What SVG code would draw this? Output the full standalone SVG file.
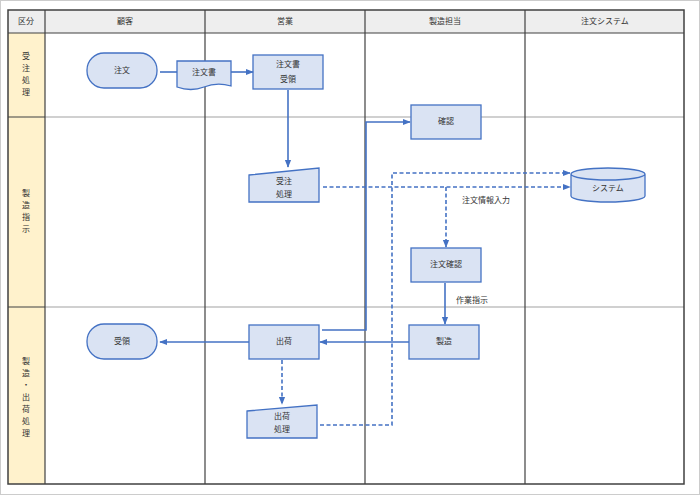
<svg xmlns="http://www.w3.org/2000/svg" width="700" height="495" viewBox="0 0 700 495">
<style>
text{font-family:"Noto Sans CJK JP","Liberation Sans",sans-serif;font-size:8px;fill:#333;text-anchor:middle;dominant-baseline:middle}
.n{fill:#dae3f3;stroke:#4472c4;stroke-width:1.3}
.c{fill:none;stroke:#4472c4;stroke-width:1.6}
.d{stroke-dasharray:4 2.5}
.g{stroke:#c0c0c0;stroke-width:1.5}
.k{stroke:#404040;stroke-width:1.2}
</style>
<defs><marker id="a" viewBox="0 0 10 10" refX="9" refY="5" markerWidth="5" markerHeight="5" orient="auto"><path d="M0,1L10,5L0,9z" fill="#4472c4"/></marker></defs>
<rect x="0.5" y="0.5" width="699" height="494" fill="#fff" stroke="#ccc"/>
<g id="frame">
<rect x="8" y="10" width="676" height="23" fill="#eeeeee"/>
<rect x="8" y="33" width="37" height="451" fill="#fff2cc"/>
<line x1="45" y1="117" x2="684" y2="117" class="g"/><line x1="45" y1="307" x2="684" y2="307" class="g"/>
<line x1="8" y1="117" x2="45" y2="117" class="k"/><line x1="8" y1="307" x2="45" y2="307" class="k"/>
<line x1="8" y1="33" x2="684" y2="33" class="k"/>
<line x1="45" y1="10" x2="45" y2="484" class="k"/><line x1="205" y1="10" x2="205" y2="484" class="k"/><line x1="365" y1="10" x2="365" y2="484" class="k"/><line x1="525" y1="10" x2="525" y2="484" class="k"/>
<rect x="8" y="10" width="676" height="474" fill="none" stroke="#404040" stroke-width="1.5"/>
<text x="26" y="22">区分</text><text x="125" y="22">顧客</text><text x="285" y="22">営業</text><text x="445" y="22">製造担当</text><text x="605" y="22">注文システム</text>
<text x="26" y="57">受</text><text x="26" y="69">注</text><text x="26" y="81">処</text><text x="26" y="93">理</text>
<text x="26" y="194">製</text><text x="26" y="206">造</text><text x="26" y="218">指</text><text x="26" y="230">示</text>
<text x="26" y="362">製</text><text x="26" y="374">造</text><text x="26" y="386">・</text><text x="26" y="398">出</text><text x="26" y="410">荷</text><text x="26" y="422">処</text><text x="26" y="434">理</text>
</g>
<g id="n1"><rect class="n" x="87" y="53" width="70" height="35" rx="17"/><text x="122" y="71">注文</text></g>
<g id="n2"><path class="n" d="M177,61H231V86Q217,82 204,87T177,87Z"/><text x="204" y="73">注文書</text></g>
<g id="n3"><rect class="n" x="253" y="55" width="70" height="34"/><text x="288" y="65">注文書</text><text x="288" y="80">受領</text></g>
<g id="n4"><path class="n" d="M249,175L319,168V202H249Z"/><text x="284" y="182">受注</text><text x="284" y="195">処理</text></g>
<g id="n5"><rect class="n" x="411" y="105" width="70" height="34"/><text x="446" y="122">確認</text></g>
<g id="n6"><path class="n" d="M571,174V196A37,6 0 0 0 645,196V174A37,6 0 0 0 571,174A37,6 0 0 0 645,174"/><text x="608" y="189">システム</text></g>
<g id="n7"><rect class="n" x="411" y="248" width="70" height="34"/><text x="446" y="265">注文確認</text></g>
<g id="n8"><rect class="n" x="409" y="325" width="70" height="34"/><text x="444" y="342">製造</text></g>
<g id="n9"><rect class="n" x="249" y="325" width="70" height="34"/><text x="284" y="342">出荷</text></g>
<g id="n10"><rect class="n" x="87" y="324" width="70" height="35" rx="17"/><text x="122" y="342">受領</text></g>
<g id="n11"><path class="n" d="M247,411L317,405V438H247Z"/><text x="282" y="417">出荷</text><text x="282" y="430">処理</text></g>
<g id="edges">
<line class="c" x1="160" y1="72" x2="177" y2="72"/>
<line class="c" x1="231" y1="72" x2="253" y2="72" marker-end="url(#a)"/>
<line class="c" x1="288" y1="90" x2="288" y2="167" marker-end="url(#a)"/>
<line class="c d" x1="323" y1="187" x2="570" y2="187" marker-end="url(#a)"/>
<line class="c d" x1="446" y1="187" x2="446" y2="247" marker-end="url(#a)"/>
<text x="486" y="201">注文情報入力</text>
<line class="c" x1="445" y1="283" x2="445" y2="324" marker-end="url(#a)"/>
<text x="472" y="301">作業指示</text>
<line class="c" x1="409" y1="342" x2="320" y2="342" marker-end="url(#a)"/>
<line class="c" x1="249" y1="342" x2="160" y2="342" marker-end="url(#a)"/>
<polyline class="c" points="322,330 366,330 366,122 410,122" marker-end="url(#a)"/>
<line class="c d" x1="282" y1="360" x2="282" y2="404" marker-end="url(#a)"/>
<polyline class="c d" points="320,425 392,425 392,173 570,173" marker-end="url(#a)"/>
</g>
</svg>
